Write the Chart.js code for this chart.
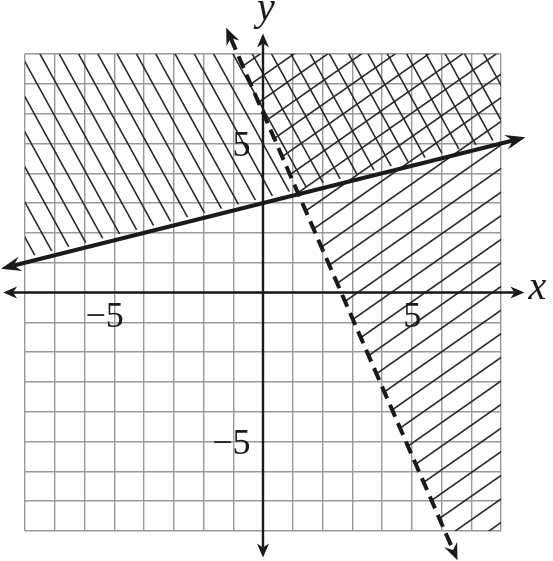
<!DOCTYPE html>
<html>
<head>
<meta charset="utf-8">
<script src="https://cdn.jsdelivr.net/npm/chart.js@4.4.1/dist/chart.umd.min.js"></script>
<style>
html,body{margin:0;padding:0;background:#fff;}
#wrap{width:553px;height:561px;position:relative;}
</style>
</head>
<body>
<div id="wrap"><canvas id="c" width="553" height="561"></canvas></div>
<script>
// ---- data ----
const gridMin = -8;
const gridMax = 8;
const xTickValues = [-5, 5];
const xTickLabels = ['\u22125', '5'];
const yTickValues = [5, -5];
const yTickLabels = ['5', '\u22125'];
const axisNames = ['x', 'y'];
const xAxisSpan = [-8.4, 8.45];   // x-axis line ends (arrowheads beyond)
const yAxisSpan = [-8.55, 8.35];  // y-axis line ends
const solidLineX = [-8.38, 8.40];
const solidLineY = [0.905, 5.10];
const dashedLineX = [-1.09, 6.39];
const dashedLineY = [8.54, -8.64];

const INK = '#1a1a1a';
const SERIF = "'Liberation Serif', 'Times New Roman', 'DejaVu Serif', serif";

function lineAt(xs, ys, x) { return ys[0] + (x - xs[0]) * (ys[1] - ys[0]) / (xs[1] - xs[0]); }
function lineXAt(xs, ys, y) { return xs[0] + (y - ys[0]) * (xs[1] - xs[0]) / (ys[1] - ys[0]); }

function arrowHead(ctx, ex, ey, dx, dy, len, half, a) {
  const n = Math.hypot(dx, dy); dx /= n; dy /= n;
  const tx = ex + dx * a, ty = ey + dy * a;
  const bx = tx - dx * len, by = ty - dy * len;
  ctx.beginPath();
  ctx.moveTo(tx, ty);
  ctx.lineTo(bx - dy * half, by + dx * half);
  ctx.lineTo(ex, ey);
  ctx.lineTo(bx + dy * half, by - dx * half);
  ctx.closePath();
  ctx.fill();
}

function hatch(ctx, clipPath, ax, ay, dx, dy, sx, sy) {
  const n = Math.hypot(dx, dy); dx /= n; dy /= n;
  ctx.save();
  ctx.beginPath(); clipPath(); ctx.clip();
  ctx.beginPath();
  for (let k = -80; k <= 80; k++) {
    const px = ax + k * sx, py = ay + k * sy;
    ctx.moveTo(px - dx * 1500, py - dy * 1500);
    ctx.lineTo(px + dx * 1500, py + dy * 1500);
  }
  ctx.strokeStyle = '#2a2a2a';
  ctx.lineWidth = 1.6;
  ctx.stroke();
  ctx.restore();
}

const decor = {
  id: 'decor',
  beforeDatasetsDraw(chart) {
    const ctx = chart.ctx, xs = chart.scales.x, ys = chart.scales.y, A = chart.chartArea;
    const X = v => xs.getPixelForValue(v), Y = v => ys.getPixelForValue(v);
    const gap = 5;
    // region above solid line: "\" hatch
    hatch(ctx, () => {
      ctx.moveTo(A.left, A.top);
      ctx.lineTo(A.right, A.top);
      ctx.lineTo(A.right, Y(lineAt(solidLineX, solidLineY, gridMax)) - gap);
      ctx.lineTo(A.left, Y(lineAt(solidLineX, solidLineY, gridMin)) - gap);
      ctx.closePath();
    }, A.left + 15, A.top, 1, 1.82, 19.3, 0);
    // region right of dashed line: "/" hatch
    hatch(ctx, () => {
      const xt = Math.max(A.left, X(lineXAt(dashedLineX, dashedLineY, gridMax)));
      const xb = Math.min(A.right, X(lineXAt(dashedLineX, dashedLineY, gridMin)));
      ctx.moveTo(xt, A.top);
      ctx.lineTo(A.right, A.top);
      ctx.lineTo(A.right, A.bottom);
      ctx.lineTo(xb, A.bottom);
      ctx.closePath();
    }, A.right, A.top + 209, 1, -0.7, 0, 23.6);

    // axes
    ctx.save();
    ctx.strokeStyle = INK; ctx.fillStyle = INK; ctx.lineWidth = 2.4;
    ctx.beginPath();
    ctx.moveTo(X(xAxisSpan[0]), Y(0)); ctx.lineTo(X(xAxisSpan[1]), Y(0));
    ctx.moveTo(X(0), Y(yAxisSpan[0])); ctx.lineTo(X(0), Y(yAxisSpan[1]));
    ctx.stroke();
    arrowHead(ctx, X(xAxisSpan[0]), Y(0), -1, 0, 14, 6, 10);
    arrowHead(ctx, X(xAxisSpan[1]), Y(0), 1, 0, 14, 6, 10);
    arrowHead(ctx, X(0), Y(yAxisSpan[0]), 0, 1, 14, 6, 10);
    arrowHead(ctx, X(0), Y(yAxisSpan[1]), 0, -1, 14, 6, 10);

    // tick labels
    ctx.font = "36px " + SERIF;
    ctx.textBaseline = 'alphabetic';
    ctx.textAlign = 'right';
    xTickValues.forEach((v, i) => ctx.fillText(xTickLabels[i], X(v) + 9.5, Y(0) + 34.5));
    yTickValues.forEach((v, i) => ctx.fillText(yTickLabels[i], X(0) - 12.5, Y(v) + 12.5));
    // axis names
    ctx.font = "italic 40px " + SERIF;
    ctx.textAlign = 'left';
    ctx.fillText(axisNames[0], X(xAxisSpan[1]) + 14, Y(0) + 6);
    ctx.textAlign = 'center';
    ctx.fillText(axisNames[1], X(0) + 3, 20);
    ctx.restore();
  },
  afterDatasetsDraw(chart) {
    const ctx = chart.ctx, xs = chart.scales.x, ys = chart.scales.y;
    const X = v => xs.getPixelForValue(v), Y = v => ys.getPixelForValue(v);
    ctx.save();
    ctx.fillStyle = INK;
    let dx = X(solidLineX[1]) - X(solidLineX[0]), dy = Y(solidLineY[1]) - Y(solidLineY[0]);
    arrowHead(ctx, X(solidLineX[0]), Y(solidLineY[0]), -dx, -dy, 20, 7.5, 13);
    arrowHead(ctx, X(solidLineX[1]), Y(solidLineY[1]), dx, dy, 20, 7.5, 13);
    dx = X(dashedLineX[1]) - X(dashedLineX[0]); dy = Y(dashedLineY[1]) - Y(dashedLineY[0]);
    arrowHead(ctx, X(dashedLineX[0]), Y(dashedLineY[0]), -dx, -dy, 17, 7, 11);
    arrowHead(ctx, X(dashedLineX[1]), Y(dashedLineY[1]), dx, dy, 17, 7, 11);
    ctx.restore();
  }
};

function build() {
  new Chart(document.getElementById('c'), {
    type: 'scatter',
    data: {
      datasets: [
        {
          label: 'solid',
          data: solidLineX.map((x, i) => ({ x, y: solidLineY[i] })),
          showLine: true, pointRadius: 0, borderColor: INK, borderWidth: 4,
          clip: false, fill: false
        },
        {
          label: 'dashed',
          data: dashedLineX.map((x, i) => ({ x, y: dashedLineY[i] })),
          showLine: true, pointRadius: 0, borderColor: INK, borderWidth: 4,
          borderDash: [13, 7], clip: false, fill: false
        }
      ]
    },
    options: {
      responsive: false,
      animation: false,
      devicePixelRatio: 1,
      layout: { padding: { left: 25, top: 54, right: 52, bottom: 30 } },
      plugins: { legend: { display: false }, tooltip: { enabled: false } },
      scales: {
        x: {
          type: 'linear', min: gridMin, max: gridMax,
          ticks: { display: false, stepSize: 1 },
          grid: { color: '#999999', lineWidth: 1.4, drawTicks: false },
          border: { display: false }
        },
        y: {
          type: 'linear', min: gridMin, max: gridMax,
          ticks: { display: false, stepSize: 1 },
          grid: { color: '#999999', lineWidth: 1.4, drawTicks: false },
          border: { display: false }
        }
      }
    },
    plugins: [decor]
  });
}

if (document.fonts && document.fonts.load) {
  Promise.all([
    document.fonts.load("36px 'Liberation Serif'"),
    document.fonts.load("italic 40px 'Liberation Serif'")
  ]).then(build, build);
} else {
  build();
}
</script>
</body>
</html>
